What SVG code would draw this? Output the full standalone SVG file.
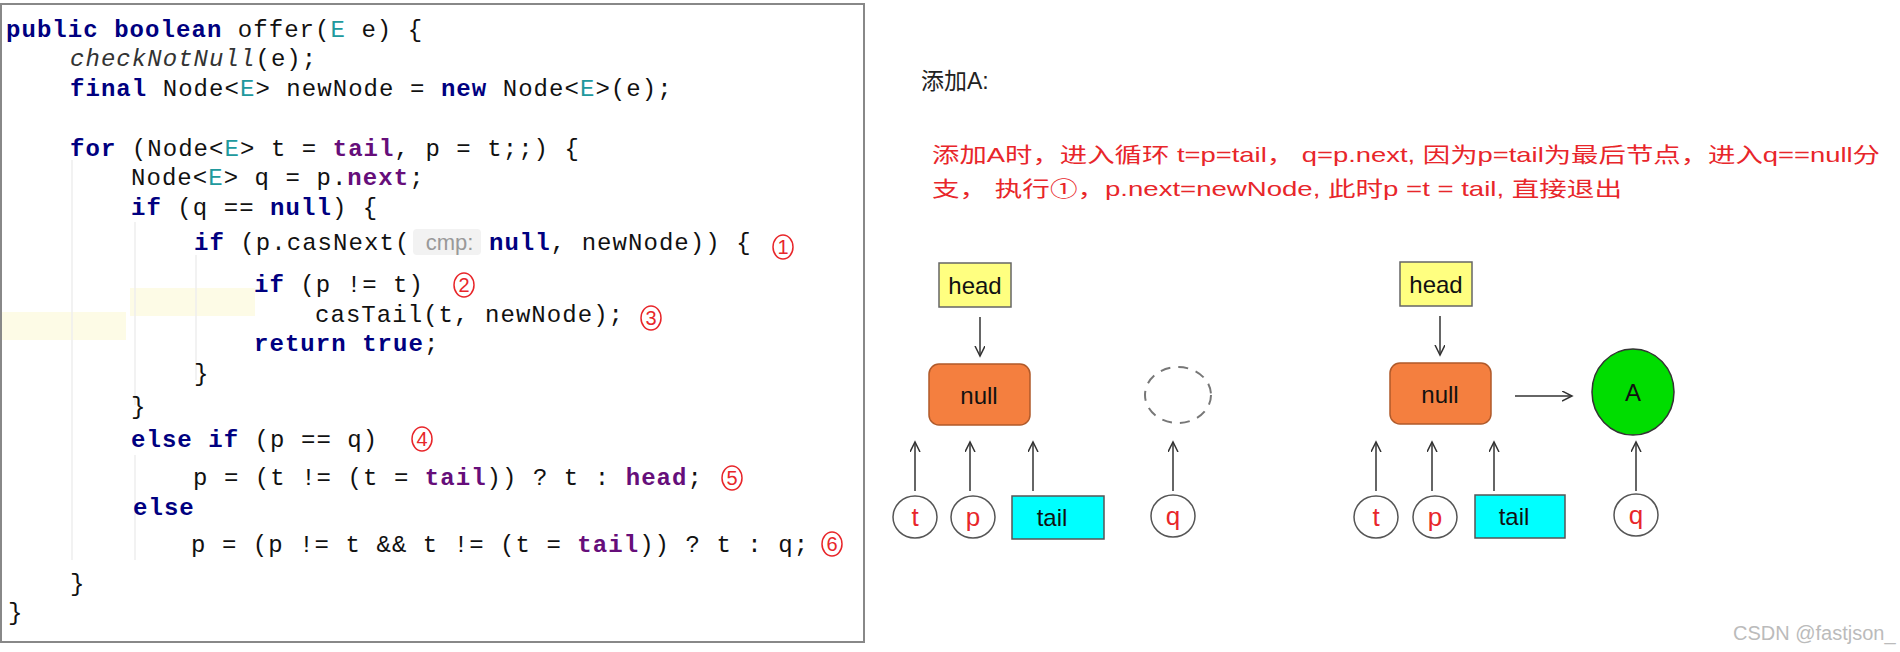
<svg xmlns="http://www.w3.org/2000/svg" width="1900" height="652" viewBox="0 0 1900 652">
<style>
.c{font-family:"Liberation Mono",monospace;font-size:24px;letter-spacing:1.05px;fill:#111;white-space:pre}
.k{fill:#000080;font-weight:bold}
.f{fill:#660e7a;font-weight:bold}
.e{fill:#20999d}
.i{font-style:italic;fill:#333}
.h{fill:#999;font-family:"Liberation Sans",sans-serif;font-size:22px;letter-spacing:0}
.n{font-family:"Liberation Sans","Noto Sans CJK SC",sans-serif;font-size:21px;fill:#e8262a}
.s{font-family:"Liberation Sans",sans-serif;font-size:24px;fill:#111;text-anchor:middle}
.r{font-family:"Liberation Sans",sans-serif;font-size:26px;fill:#e8262a;text-anchor:middle}
.ln{stroke:#333;stroke-width:1.5;fill:none;marker-end:url(#a)}
.vc{fill:#fff;stroke:#555;stroke-width:1.5}
.cn{font-family:"Liberation Sans",sans-serif;font-size:20px;fill:#e8262a;text-anchor:middle}
.cc{fill:none;stroke:#e8262a;stroke-width:1.5}
</style>
<defs><marker id="a" markerWidth="12" markerHeight="12" refX="10" refY="5" orient="auto" markerUnits="userSpaceOnUse"><path d="M0,0 L10,5 L0,10" fill="none" stroke="#333" stroke-width="1.5"/></marker></defs>
<rect width="1900" height="652" fill="#fff"/>
<g id="code">
<rect x="1" y="4" width="863" height="638" fill="#fff" stroke="#888" stroke-width="2"/>
<rect x="130" y="288" width="125" height="28" fill="#fdfbe6"/>
<rect x="2" y="312" width="124" height="28" fill="#fdfbe6"/>
<g stroke="#eee" stroke-width="1.5"><line x1="72" y1="160" x2="72" y2="560"/><line x1="135" y1="222" x2="135" y2="405"/><line x1="135" y1="455" x2="135" y2="560"/><line x1="196" y1="255" x2="196" y2="380"/></g>
<text class="c" x="6" y="37"><tspan class="k">public boolean</tspan> offer(<tspan class="e">E</tspan> e) {</text>
<text class="c" x="70" y="66"><tspan class="i">checkNotNull</tspan>(e);</text>
<text class="c" x="70" y="96"><tspan class="k">final</tspan> Node&lt;<tspan class="e">E</tspan>&gt; newNode = <tspan class="k">new</tspan> Node&lt;<tspan class="e">E</tspan>&gt;(e);</text>
<text class="c" x="70" y="156"><tspan class="k">for</tspan> (Node&lt;<tspan class="e">E</tspan>&gt; t = <tspan class="f">tail</tspan>, p = t;;) {</text>
<text class="c" x="131" y="185">Node&lt;<tspan class="e">E</tspan>&gt; q = p.<tspan class="f">next</tspan>;</text>
<text class="c" x="131" y="215"><tspan class="k">if</tspan> (q == <tspan class="k">null</tspan>) {</text>
<rect x="413" y="229" width="68" height="26" rx="4" fill="#f2f2f2"/>
<text class="c" x="194" y="250"><tspan class="k">if</tspan> (p.casNext( <tspan class="h">cmp:</tspan> <tspan class="k">null</tspan>, newNode)) {</text>
<text class="c" x="254" y="292"><tspan class="k">if</tspan> (p != t)</text>
<text class="c" x="315" y="322">casTail(t, newNode);</text>
<text class="c" x="254" y="351"><tspan class="k">return true</tspan>;</text>
<text class="c" x="194" y="381">}</text>
<text class="c" x="131" y="414">}</text>
<text class="c" x="131" y="447"><tspan class="k">else if</tspan> (p == q)</text>
<text class="c" x="193" y="485">p = (t != (t = <tspan class="f">tail</tspan>)) ? t : <tspan class="f">head</tspan>;</text>
<text class="c" x="133" y="515"><tspan class="k">else</tspan></text>
<text class="c" x="191" y="552">p = (p != t &amp;&amp; t != (t = <tspan class="f">tail</tspan>)) ? t : q;</text>
<text class="c" x="70" y="591">}</text>
<text class="c" x="8" y="620">}</text>
<g><ellipse class="cc" cx="783" cy="247" rx="10" ry="12"/><text class="cn" x="783" y="254">1</text></g>
<g><ellipse class="cc" cx="464" cy="285" rx="10" ry="12"/><text class="cn" x="464" y="292">2</text></g>
<g><ellipse class="cc" cx="651" cy="318" rx="10" ry="12"/><text class="cn" x="651" y="325">3</text></g>
<g><ellipse class="cc" cx="422" cy="439" rx="10" ry="12"/><text class="cn" x="422" y="446">4</text></g>
<g><ellipse class="cc" cx="732" cy="478" rx="10" ry="12"/><text class="cn" x="732" y="485">5</text></g>
<g><ellipse class="cc" cx="832" cy="544" rx="10" ry="12"/><text class="cn" x="832" y="551">6</text></g>
</g>
<text x="921" y="89" font-family="Liberation Sans,Noto Sans CJK SC,sans-serif" font-size="23" fill="#222">添加A:</text>
<text class="n" x="932" y="162" textLength="948" lengthAdjust="spacingAndGlyphs">添加A时，进入循环 t=p=tail， q=p.next, 因为p=tail为最后节点，进入q==null分</text>
<text class="n" x="932" y="196" textLength="690" lengthAdjust="spacingAndGlyphs">支， 执行①，p.next=newNode, 此时p  =t = tail, 直接退出</text>
<g id="connectors">
<line class="ln" x1="980" y1="317" x2="980" y2="356"/>
<line class="ln" x1="915" y1="491" x2="915" y2="442"/>
<line class="ln" x1="970" y1="491" x2="970" y2="442"/>
<line class="ln" x1="1033" y1="491" x2="1033" y2="442"/>
<line class="ln" x1="1173" y1="491" x2="1173" y2="442"/>
<line class="ln" x1="1440" y1="316" x2="1440" y2="355"/>
<line class="ln" x1="1515" y1="396" x2="1572" y2="396"/>
<line class="ln" x1="1376" y1="491" x2="1376" y2="442"/>
<line class="ln" x1="1432" y1="491" x2="1432" y2="442"/>
<line class="ln" x1="1494" y1="491" x2="1494" y2="442"/>
<line class="ln" x1="1636" y1="491" x2="1636" y2="442"/>
</g>
<g id="head1"><rect x="939" y="263" width="72" height="44" fill="#ffff80" stroke="#666" stroke-width="1.5"/><text class="s" x="975" y="294">head</text></g>
<g id="null1"><rect x="929" y="364" width="101" height="61" rx="10" fill="#f47f3f" stroke="#b05a2a" stroke-width="1.5"/><text class="s" x="979" y="404">null</text></g>
<g id="dash"><ellipse cx="1178" cy="395" rx="33" ry="28" fill="none" stroke="#777" stroke-width="2" stroke-dasharray="10,8"/></g>
<g id="t1"><ellipse class="vc" cx="915" cy="517" rx="22" ry="21"/><text class="r" x="915" y="526">t</text></g>
<g id="p1"><ellipse class="vc" cx="973" cy="517" rx="22" ry="21"/><text class="r" x="973" y="526">p</text></g>
<g id="tail1"><rect x="1012" y="496" width="92" height="43" fill="#00ffff" stroke="#555" stroke-width="1.5"/><text class="s" x="1052" y="526">tail</text></g>
<g id="q1"><ellipse class="vc" cx="1173" cy="516" rx="22" ry="21"/><text class="r" x="1173" y="525">q</text></g>
<g id="head2"><rect x="1400" y="262" width="72" height="44" fill="#ffff80" stroke="#666" stroke-width="1.5"/><text class="s" x="1436" y="293">head</text></g>
<g id="null2"><rect x="1390" y="363" width="101" height="61" rx="10" fill="#f47f3f" stroke="#b05a2a" stroke-width="1.5"/><text class="s" x="1440" y="403">null</text></g>
<g id="A"><ellipse cx="1633" cy="392" rx="41" ry="43" fill="#00dd00" stroke="#333" stroke-width="1.5"/><text class="s" x="1633" y="401">A</text></g>
<g id="t2"><ellipse class="vc" cx="1376" cy="517" rx="22" ry="21"/><text class="r" x="1376" y="526">t</text></g>
<g id="p2"><ellipse class="vc" cx="1435" cy="517" rx="22" ry="21"/><text class="r" x="1435" y="526">p</text></g>
<g id="tail2"><rect x="1475" y="495" width="90" height="43" fill="#00ffff" stroke="#555" stroke-width="1.5"/><text class="s" x="1514" y="525">tail</text></g>
<g id="q2"><ellipse class="vc" cx="1636" cy="515" rx="22" ry="21"/><text class="r" x="1636" y="524">q</text></g>
<text x="1733" y="640" font-family="Liberation Sans,sans-serif" font-size="20" fill="#bbb">CSDN @fastjson_</text>
</svg>
